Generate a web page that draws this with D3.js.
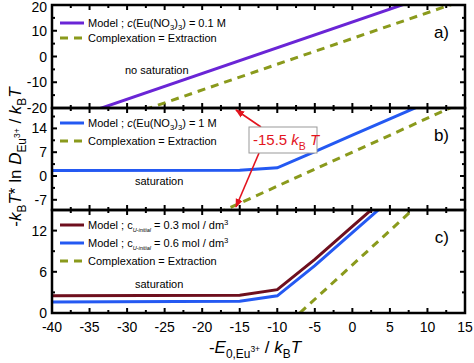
<!DOCTYPE html>
<html>
<head>
<meta charset="utf-8">
<script src="https://cdn.jsdelivr.net/npm/d3@7"></script>
<style>
	body { margin: 0; background: #fff; }
	svg text { font-family: "Liberation Sans", Arial, sans-serif; }
</style>
</head>
<body>
<div id="chart"></div>
<script>
// DATA
const xTicks = [-40, -35, -30, -25, -20, -15, -10, -5, 0, 5, 10, 15];
const xDomain = [-40, 15];

const panelNames = ['a)', 'b)', 'c)'];
const yDomains = [[-20, 20], [-10, 20], [0, 15]];
const yTickLabels = [[-20, -10, 0, 10, 20], [-7, 0, 7, 14], [0, 6, 12]];
const yMinorSteps = [5, 3.5, 3];

// complexation = extraction (same line in every panel)
const dashX = [-40, 15];
const dashY = [-33, 22];

// a) c(Eu(NO3)3) = 0.1 M
const modelAX = [-40, 15];
const modelAY = [-26.6, 28.4];

// b) c(Eu(NO3)3) = 1 M
const modelBX = [-40, -15, -10, -5, 0, 5, 10];
const modelBY = [1.6, 1.7, 2.4, 7.2, 12.0, 16.8, 21.6];

// c) c_U-initial = 0.3 / 0.6 mol/dm3
const modelCX = [-40, -15, -10, -5, 0, 5];
const modelC03Y = [2.5, 2.6, 3.4, 7.8, 12.6, 17.4];
const modelC06Y = [1.6, 1.7, 2.5, 6.9, 11.7, 16.5];

const markerX = -15.5;

// COLORS
const cPurple = '#6a25d6';
const cBlue = '#2459f2';
const cDarkRed = '#6e0f1e';
const cOlive = '#8a9a1c';
const cRed = '#e3141e';

// LAYOUT
const W = 474, H = 363;
const plotLeft = 52, plotRight = 465;
const panelEdges = [5, 108, 210, 313];

const svg = d3.select('#chart').append('svg').attr('width', W).attr('height', H);
const x = d3.scaleLinear().domain(xDomain).range([plotLeft, plotRight]);

/** rich text: parts = [[str, flags]] flags: i, sub, sup */
function rich(g, px, py, parts, size, opts = {}) {
	const t = g.append('text')
		.attr('x', px).attr('y', py)
		.style('font-size', size + 'px')
		.attr('text-anchor', opts.anchor || 'start')
		.attr('fill', opts.fill || '#000');
	let shift = 0;
	parts.forEach(p => {
		const [str, f = ''] = Array.isArray(p) ? p : [p, ''];
		let target = 0, s = size;
		if (f.includes('sub')) { target = size * 0.3; s = size * 0.7; }
		if (f.includes('sup')) { target = -size * 0.4; s = size * 0.7; }
		if (f.includes('ss')) { target = -size * 0.05; s = size * 0.5; }
		if (f.includes('tiny')) { target = size * 0.3; s = size * 0.5; }
		t.append('tspan')
			.attr('dy', target - shift)
			.style('font-size', s + 'px')
			.style('font-style', f.includes('i') ? 'italic' : 'normal')
			.text(str);
		shift = target;
	});
	return t;
}

const line = (xs, ys, y) => d3.line().x((d, i) => x(xs[i])).y(d => y(d))(ys);

const panels = panelEdges.slice(0, 3).map((top, i) => {
	const bottom = panelEdges[i + 1];
	const y = d3.scaleLinear().domain(yDomains[i]).range([bottom, top]);
	const g = svg.append('g');
	g.append('clipPath').attr('id', 'clip' + i)
		.append('rect').attr('x', plotLeft).attr('y', top).attr('width', plotRight - plotLeft).attr('height', bottom - top);
	return { top, bottom, y, g };
});

// Ticks and labels
panels.forEach((p, i) => {
	const { top, bottom, y, g } = p;
	const xMinor = d3.range(xDomain[0], xDomain[1] + 0.01, 2.5);
	xMinor.forEach(v => {
		const len = v % 5 === 0 ? 5 : 3;
		g.append('line').attr('x1', x(v)).attr('x2', x(v)).attr('y1', bottom).attr('y2', bottom - len)
			.attr('stroke', '#000').attr('stroke-width', 2);
		g.append('line').attr('x1', x(v)).attr('x2', x(v)).attr('y1', top).attr('y2', top + len)
			.attr('stroke', '#000').attr('stroke-width', 2);
	});
	const [y0, y1] = yDomains[i];
	const step = yMinorSteps[i];
	const start = Math.ceil(y0 / step) * step;
	d3.range(start, y1 + 0.01, step).forEach(v => {
		const major = yTickLabels[i].includes(v) || Math.abs(v % (step * 2)) < 1e-6;
		const len = major ? 5 : 3;
		g.append('line').attr('x1', plotLeft).attr('x2', plotLeft + len).attr('y1', y(v)).attr('y2', y(v))
			.attr('stroke', '#000').attr('stroke-width', 2);
		g.append('line').attr('x1', plotRight).attr('x2', plotRight - len).attr('y1', y(v)).attr('y2', y(v))
			.attr('stroke', '#000').attr('stroke-width', 2);
	});
	g.selectAll('text.ytick').data(yTickLabels[i]).enter().append('text')
		.attr('class', 'ytick')
		.attr('x', plotLeft - 5).attr('y', d => Math.max(y(d), 7)).attr('dy', '0.36em')
		.attr('text-anchor', 'end').style('font-size', '14px')
		.text(d => d);
	g.append('text').attr('x', 449).attr('y', top + 33)
		.attr('text-anchor', 'end').style('font-size', '17px').text(panelNames[i]);
});

// x tick labels
svg.selectAll('text.xtick').data(xTicks).enter().append('text')
	.attr('class', 'xtick')
	.attr('x', d => x(d)).attr('y', 332)
	.attr('text-anchor', 'middle').style('font-size', '14px')
	.text(d => d);

// Series
function drawSeries(p, i, xs, ys, color, dashed) {
	p.g.append('path')
		.attr('clip-path', `url(#clip${i})`)
		.attr('d', line(xs, ys, p.y))
		.attr('fill', 'none')
		.attr('stroke', color)
		.attr('stroke-width', 3)
		.attr('stroke-dasharray', dashed ? '8,6' : null);
}
drawSeries(panels[0], 0, dashX, dashY, cOlive, true);
drawSeries(panels[0], 0, modelAX, modelAY, cPurple, false);
drawSeries(panels[1], 1, dashX, dashY, cOlive, true);
drawSeries(panels[1], 1, modelBX, modelBY, cBlue, false);
drawSeries(panels[2], 2, dashX, dashY, cOlive, true);
drawSeries(panels[2], 2, modelCX, modelC03Y, cDarkRed, false);
drawSeries(panels[2], 2, modelCX, modelC06Y, cBlue, false);

// Frames
panels.forEach(p => {
	svg.append('rect').attr('x', plotLeft).attr('y', p.top)
		.attr('width', plotRight - plotLeft).attr('height', p.bottom - p.top)
		.attr('fill', 'none').attr('stroke', '#000').attr('stroke-width', 2.5);
});

// Legends
function legendRow(px, py, color, dashed, parts) {
	svg.append('line').attr('x1', px).attr('x2', px + 24).attr('y1', py).attr('y2', py)
		.attr('stroke', color).attr('stroke-width', 3)
		.attr('stroke-dasharray', dashed ? '8,6' : null);
	rich(svg, px + 28, py + 4, parts, 11);
}
legendRow(60, 23, cPurple, false, ['Model ; ', ['c', 'i'], '(Eu(NO', ['3', 'sub'], ')', ['3', 'sub'], ') = 0.1 M']);
legendRow(60, 38, cOlive, true, ['Complexation = Extraction']);
legendRow(60, 123, cBlue, false, ['Model ; ', ['c', 'i'], '(Eu(NO', ['3', 'sub'], ')', ['3', 'sub'], ') = 1 M']);
legendRow(60, 141, cOlive, true, ['Complexation = Extraction']);
legendRow(60, 225, cDarkRed, false, ['Model ; c', ['U-initial', 'tiny'], ' = 0.3 mol / dm', ['3', 'sup']]);
legendRow(60, 243, cBlue, false, ['Model ; c', ['U-initial', 'tiny'], ' = 0.6 mol / dm', ['3', 'sup']]);
legendRow(60, 261, cOlive, true, ['Complexation = Extraction']);

// In-plot notes
svg.append('text').attr('x', 125).attr('y', 74).style('font-size', '11px').text('no saturation');
svg.append('text').attr('x', 135).attr('y', 185).style('font-size', '11px').text('saturation');
svg.append('text').attr('x', 135).attr('y', 288).style('font-size', '11px').text('saturation');

// Annotation -15.5 kBT
const defs = svg.append('defs');
defs.append('marker').attr('id', 'arr').attr('viewBox', '0 0 10 10')
	.attr('refX', 9).attr('refY', 5).attr('markerWidth', 9).attr('markerHeight', 9)
	.attr('markerUnits', 'userSpaceOnUse').attr('orient', 'auto')
	.append('path').attr('d', 'M0,1 L10,5 L0,9 z').attr('fill', cRed);
const box = { x: 249, y: 127, w: 68, h: 26 };
const tipX = x(markerX);
svg.append('line').attr('x1', 261).attr('y1', box.y).attr('x2', tipX).attr('y2', panels[1].top + 2)
	.attr('stroke', cRed).attr('stroke-width', 1.6).attr('marker-end', 'url(#arr)');
svg.append('line').attr('x1', 259).attr('y1', box.y + box.h).attr('x2', tipX).attr('y2', panels[1].bottom - 3)
	.attr('stroke', cRed).attr('stroke-width', 1.6).attr('marker-end', 'url(#arr)');
svg.append('rect').attr('x', box.x).attr('y', box.y).attr('width', box.w).attr('height', box.h)
	.attr('fill', '#fff').attr('stroke', '#999').attr('stroke-width', 1);
rich(svg, box.x + 4, box.y + 18, ['-15.5 ', ['k', 'i'], ['B', 'sub'], ' ', ['T', 'i']], 15, { fill: cRed });

// Axis titles
rich(svg, 255, 353, ['-', ['E', 'i'], ['0,Eu', 'sub'], ['3+', 'ss'], ' / ', ['k', 'i'], ['B', 'sub'], ['T', 'i']], 17, { anchor: 'middle' });
const yl = svg.append('g').attr('transform', 'translate(21,157) rotate(-90)');
rich(yl, 0, 0, ['-', ['k', 'i'], ['B', 'sub'], ['T', 'i'], '* ln ', ['D', 'i'], ['Eu', 'sub'], ['3+', 'ss'], ' / ', ['k', 'i'], ['B', 'sub'], ['T', 'i']], 17, { anchor: 'middle' });
</script>
</body>
</html>
